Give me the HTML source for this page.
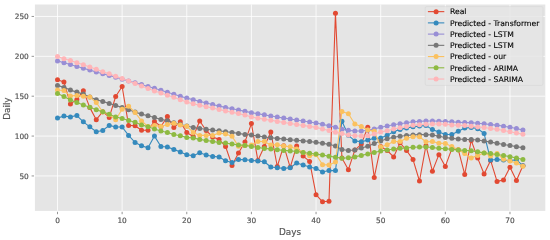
<!DOCTYPE html>
<html><head><meta charset="utf-8"><title>Chart</title><style>html,body{margin:0;padding:0;background:#fff}body{width:550px;height:240px;overflow:hidden}</style></head><body>
<svg width="550" height="240" viewBox="0 0 550 240" style="display:block;font-family:'DejaVu Sans','Liberation Sans',sans-serif">
<rect width="550" height="240" fill="#fff"/>
<rect x="34.9" y="4.5" width="510.4" height="206.4" fill="#E5E5E5"/>
<path d="M57.50 4.5V210.9M122.14 4.5V210.9M186.78 4.5V210.9M251.42 4.5V210.9M316.06 4.5V210.9M380.70 4.5V210.9M445.34 4.5V210.9M509.98 4.5V210.9M34.9 175.95H545.3M34.9 136.07H545.3M34.9 96.20H545.3M34.9 56.33H545.3M34.9 16.45H545.3" stroke="#fff" stroke-width="0.8" fill="none"/>
<path d="M57.50 211.8v2.4M122.14 211.8v2.4M186.78 211.8v2.4M251.42 211.8v2.4M316.06 211.8v2.4M380.70 211.8v2.4M445.34 211.8v2.4M509.98 211.8v2.4M34.0 175.95h-2.4M34.0 136.07h-2.4M34.0 96.20h-2.4M34.0 56.33h-2.4M34.0 16.45h-2.4" stroke="#555" stroke-width="0.62" fill="none"/>
<g font-size="7.4" fill="#555" stroke="#555" stroke-width="0.18">
<text x="57.50" y="222.6" text-anchor="middle">0</text>
<text x="122.14" y="222.6" text-anchor="middle">10</text>
<text x="186.78" y="222.6" text-anchor="middle">20</text>
<text x="251.42" y="222.6" text-anchor="middle">30</text>
<text x="316.06" y="222.6" text-anchor="middle">40</text>
<text x="380.70" y="222.6" text-anchor="middle">50</text>
<text x="445.34" y="222.6" text-anchor="middle">60</text>
<text x="509.98" y="222.6" text-anchor="middle">70</text>
<text x="28.8" y="178.65" text-anchor="end">50</text>
<text x="28.8" y="138.77" text-anchor="end">100</text>
<text x="28.8" y="98.90" text-anchor="end">150</text>
<text x="28.8" y="59.03" text-anchor="end">200</text>
<text x="28.8" y="19.15" text-anchor="end">250</text>
</g>
<g font-size="8.9" fill="#555" stroke="#555" stroke-width="0.18">
<text x="290.10" y="234.7" text-anchor="middle">Days</text>
<text transform="translate(9.7 108.60) rotate(-90)" text-anchor="middle">Daily</text>
</g>
<clipPath id="c"><rect x="34.9" y="4.5" width="510.4" height="206.4"/></clipPath>
<filter id="b" x="-2%" y="-2%" width="104%" height="104%"><feGaussianBlur stdDeviation="0.35"/></filter>
<g clip-path="url(#c)"><g filter="url(#b)">
<polyline points="57.50,79.78 63.96,82.02 70.43,104.10 76.89,99.38 83.36,90.66 89.82,107.62 96.28,119.70 102.75,111.70 109.21,117.38 115.68,96.50 122.14,86.50 128.60,125.38 135.07,125.70 141.53,130.26 148.00,130.26 154.46,121.38 160.92,126.50 167.39,116.58 173.85,127.62 180.32,121.86 186.78,132.58 193.24,136.50 199.71,120.98 206.17,130.50 212.64,136.90 219.10,139.38 225.56,146.50 232.03,165.38 238.49,152.98 244.96,141.94 251.42,123.62 257.88,160.42 264.35,146.50 270.81,132.02 277.28,166.50 283.74,145.70 290.20,167.30 296.67,145.94 303.13,156.10 309.60,161.38 316.06,194.66 322.52,201.78 328.99,201.30 335.45,13.14 341.92,158.02 348.38,169.70 354.84,150.10 361.31,144.10 367.77,127.30 374.24,177.38 380.70,146.50 387.16,150.50 393.63,156.90 400.09,142.82 406.56,150.50 413.02,159.62 419.48,180.98 425.95,145.70 432.41,171.14 438.88,154.66 445.34,166.42 451.80,148.90 458.27,149.70 464.73,174.42 471.20,140.42 477.66,158.10 484.12,173.94 490.59,160.42 497.05,181.38 503.52,180.02 509.98,167.30 516.44,180.42 522.91,165.70" fill="none" stroke="#E24A33" stroke-width="1.1" stroke-linejoin="round"/>
<g fill="#E24A33"><circle cx="57.50" cy="79.78" r="2.5"/><circle cx="63.96" cy="82.02" r="2.5"/><circle cx="70.43" cy="104.10" r="2.5"/><circle cx="76.89" cy="99.38" r="2.5"/><circle cx="83.36" cy="90.66" r="2.5"/><circle cx="89.82" cy="107.62" r="2.5"/><circle cx="96.28" cy="119.70" r="2.5"/><circle cx="102.75" cy="111.70" r="2.5"/><circle cx="109.21" cy="117.38" r="2.5"/><circle cx="115.68" cy="96.50" r="2.5"/><circle cx="122.14" cy="86.50" r="2.5"/><circle cx="128.60" cy="125.38" r="2.5"/><circle cx="135.07" cy="125.70" r="2.5"/><circle cx="141.53" cy="130.26" r="2.5"/><circle cx="148.00" cy="130.26" r="2.5"/><circle cx="154.46" cy="121.38" r="2.5"/><circle cx="160.92" cy="126.50" r="2.5"/><circle cx="167.39" cy="116.58" r="2.5"/><circle cx="173.85" cy="127.62" r="2.5"/><circle cx="180.32" cy="121.86" r="2.5"/><circle cx="186.78" cy="132.58" r="2.5"/><circle cx="193.24" cy="136.50" r="2.5"/><circle cx="199.71" cy="120.98" r="2.5"/><circle cx="206.17" cy="130.50" r="2.5"/><circle cx="212.64" cy="136.90" r="2.5"/><circle cx="219.10" cy="139.38" r="2.5"/><circle cx="225.56" cy="146.50" r="2.5"/><circle cx="232.03" cy="165.38" r="2.5"/><circle cx="238.49" cy="152.98" r="2.5"/><circle cx="244.96" cy="141.94" r="2.5"/><circle cx="251.42" cy="123.62" r="2.5"/><circle cx="257.88" cy="160.42" r="2.5"/><circle cx="264.35" cy="146.50" r="2.5"/><circle cx="270.81" cy="132.02" r="2.5"/><circle cx="277.28" cy="166.50" r="2.5"/><circle cx="283.74" cy="145.70" r="2.5"/><circle cx="290.20" cy="167.30" r="2.5"/><circle cx="296.67" cy="145.94" r="2.5"/><circle cx="303.13" cy="156.10" r="2.5"/><circle cx="309.60" cy="161.38" r="2.5"/><circle cx="316.06" cy="194.66" r="2.5"/><circle cx="322.52" cy="201.78" r="2.5"/><circle cx="328.99" cy="201.30" r="2.5"/><circle cx="335.45" cy="13.14" r="2.5"/><circle cx="341.92" cy="158.02" r="2.5"/><circle cx="348.38" cy="169.70" r="2.5"/><circle cx="354.84" cy="150.10" r="2.5"/><circle cx="361.31" cy="144.10" r="2.5"/><circle cx="367.77" cy="127.30" r="2.5"/><circle cx="374.24" cy="177.38" r="2.5"/><circle cx="380.70" cy="146.50" r="2.5"/><circle cx="387.16" cy="150.50" r="2.5"/><circle cx="393.63" cy="156.90" r="2.5"/><circle cx="400.09" cy="142.82" r="2.5"/><circle cx="406.56" cy="150.50" r="2.5"/><circle cx="413.02" cy="159.62" r="2.5"/><circle cx="419.48" cy="180.98" r="2.5"/><circle cx="425.95" cy="145.70" r="2.5"/><circle cx="432.41" cy="171.14" r="2.5"/><circle cx="438.88" cy="154.66" r="2.5"/><circle cx="445.34" cy="166.42" r="2.5"/><circle cx="451.80" cy="148.90" r="2.5"/><circle cx="458.27" cy="149.70" r="2.5"/><circle cx="464.73" cy="174.42" r="2.5"/><circle cx="471.20" cy="140.42" r="2.5"/><circle cx="477.66" cy="158.10" r="2.5"/><circle cx="484.12" cy="173.94" r="2.5"/><circle cx="490.59" cy="160.42" r="2.5"/><circle cx="497.05" cy="181.38" r="2.5"/><circle cx="503.52" cy="180.02" r="2.5"/><circle cx="509.98" cy="167.30" r="2.5"/><circle cx="516.44" cy="180.42" r="2.5"/><circle cx="522.91" cy="165.70" r="2.5"/></g>
<polyline points="57.50,118.02 63.96,116.10 70.43,116.90 76.89,115.54 83.36,121.86 89.82,126.82 96.28,131.78 102.75,130.50 109.21,125.38 115.68,126.98 122.14,126.98 128.60,135.38 135.07,142.50 141.53,145.86 148.00,147.70 154.46,136.10 160.92,146.50 167.39,147.06 173.85,149.38 180.32,152.02 186.78,154.82 193.24,155.78 199.71,152.82 206.17,154.98 212.64,156.42 219.10,156.98 225.56,160.82 232.03,162.42 238.49,159.38 244.96,159.70 251.42,160.42 257.88,160.98 264.35,161.78 270.81,166.98 277.28,167.78 283.74,168.42 290.20,167.78 296.67,162.98 303.13,164.98 309.60,166.98 316.06,168.58 322.52,172.02 328.99,170.58 335.45,170.58 341.92,121.22 348.38,135.30 354.84,140.90 361.31,141.70 367.77,140.10 374.24,138.34 380.70,138.02 387.16,135.14 393.63,131.86 400.09,129.38 406.56,128.10 413.02,126.82 419.48,126.10 425.95,125.54 432.41,129.62 438.88,131.94 445.34,134.50 451.80,134.50 458.27,131.30 464.73,128.10 471.20,127.46 477.66,128.66 484.12,133.54 490.59,160.02 497.05,159.46 503.52,160.10 509.98,160.82 516.44,159.62 522.91,165.86" fill="none" stroke="#348ABD" stroke-width="1.1" stroke-linejoin="round"/>
<g fill="#348ABD"><circle cx="57.50" cy="118.02" r="2.5"/><circle cx="63.96" cy="116.10" r="2.5"/><circle cx="70.43" cy="116.90" r="2.5"/><circle cx="76.89" cy="115.54" r="2.5"/><circle cx="83.36" cy="121.86" r="2.5"/><circle cx="89.82" cy="126.82" r="2.5"/><circle cx="96.28" cy="131.78" r="2.5"/><circle cx="102.75" cy="130.50" r="2.5"/><circle cx="109.21" cy="125.38" r="2.5"/><circle cx="115.68" cy="126.98" r="2.5"/><circle cx="122.14" cy="126.98" r="2.5"/><circle cx="128.60" cy="135.38" r="2.5"/><circle cx="135.07" cy="142.50" r="2.5"/><circle cx="141.53" cy="145.86" r="2.5"/><circle cx="148.00" cy="147.70" r="2.5"/><circle cx="154.46" cy="136.10" r="2.5"/><circle cx="160.92" cy="146.50" r="2.5"/><circle cx="167.39" cy="147.06" r="2.5"/><circle cx="173.85" cy="149.38" r="2.5"/><circle cx="180.32" cy="152.02" r="2.5"/><circle cx="186.78" cy="154.82" r="2.5"/><circle cx="193.24" cy="155.78" r="2.5"/><circle cx="199.71" cy="152.82" r="2.5"/><circle cx="206.17" cy="154.98" r="2.5"/><circle cx="212.64" cy="156.42" r="2.5"/><circle cx="219.10" cy="156.98" r="2.5"/><circle cx="225.56" cy="160.82" r="2.5"/><circle cx="232.03" cy="162.42" r="2.5"/><circle cx="238.49" cy="159.38" r="2.5"/><circle cx="244.96" cy="159.70" r="2.5"/><circle cx="251.42" cy="160.42" r="2.5"/><circle cx="257.88" cy="160.98" r="2.5"/><circle cx="264.35" cy="161.78" r="2.5"/><circle cx="270.81" cy="166.98" r="2.5"/><circle cx="277.28" cy="167.78" r="2.5"/><circle cx="283.74" cy="168.42" r="2.5"/><circle cx="290.20" cy="167.78" r="2.5"/><circle cx="296.67" cy="162.98" r="2.5"/><circle cx="303.13" cy="164.98" r="2.5"/><circle cx="309.60" cy="166.98" r="2.5"/><circle cx="316.06" cy="168.58" r="2.5"/><circle cx="322.52" cy="172.02" r="2.5"/><circle cx="328.99" cy="170.58" r="2.5"/><circle cx="335.45" cy="170.58" r="2.5"/><circle cx="341.92" cy="121.22" r="2.5"/><circle cx="348.38" cy="135.30" r="2.5"/><circle cx="354.84" cy="140.90" r="2.5"/><circle cx="361.31" cy="141.70" r="2.5"/><circle cx="367.77" cy="140.10" r="2.5"/><circle cx="374.24" cy="138.34" r="2.5"/><circle cx="380.70" cy="138.02" r="2.5"/><circle cx="387.16" cy="135.14" r="2.5"/><circle cx="393.63" cy="131.86" r="2.5"/><circle cx="400.09" cy="129.38" r="2.5"/><circle cx="406.56" cy="128.10" r="2.5"/><circle cx="413.02" cy="126.82" r="2.5"/><circle cx="419.48" cy="126.10" r="2.5"/><circle cx="425.95" cy="125.54" r="2.5"/><circle cx="432.41" cy="129.62" r="2.5"/><circle cx="438.88" cy="131.94" r="2.5"/><circle cx="445.34" cy="134.50" r="2.5"/><circle cx="451.80" cy="134.50" r="2.5"/><circle cx="458.27" cy="131.30" r="2.5"/><circle cx="464.73" cy="128.10" r="2.5"/><circle cx="471.20" cy="127.46" r="2.5"/><circle cx="477.66" cy="128.66" r="2.5"/><circle cx="484.12" cy="133.54" r="2.5"/><circle cx="490.59" cy="160.02" r="2.5"/><circle cx="497.05" cy="159.46" r="2.5"/><circle cx="503.52" cy="160.10" r="2.5"/><circle cx="509.98" cy="160.82" r="2.5"/><circle cx="516.44" cy="159.62" r="2.5"/><circle cx="522.91" cy="165.86" r="2.5"/></g>
<polyline points="57.50,60.90 63.96,62.74 70.43,64.58 76.89,66.42 83.36,68.26 89.82,70.10 96.28,71.94 102.75,73.78 109.21,75.46 115.68,77.30 122.14,79.14 128.60,80.95 135.07,82.77 141.53,84.58 148.00,86.46 154.46,88.34 160.92,90.26 167.39,92.18 173.85,94.22 180.32,96.26 186.78,98.10 193.24,99.83 199.71,101.40 206.17,102.96 212.64,104.53 219.10,106.10 225.56,107.41 232.03,108.72 238.49,110.04 244.96,111.35 251.42,112.66 257.88,113.75 264.35,114.84 270.81,115.92 277.28,117.01 283.74,118.10 290.20,119.08 296.67,120.05 303.13,121.03 309.60,122.00 316.06,122.98 322.52,124.34 328.99,125.70 335.45,127.30 341.92,129.22 348.38,130.34 354.84,131.06 361.31,131.06 367.77,130.26 374.24,128.90 380.70,127.30 387.16,126.02 393.63,124.74 400.09,123.70 406.56,122.74 413.02,121.78 419.48,121.38 425.95,121.06 432.41,120.98 438.88,121.14 445.34,121.46 451.80,121.86 458.27,122.18 464.73,122.58 471.20,122.66 477.66,123.22 484.12,123.78 490.59,124.58 497.05,125.14 503.52,126.26 509.98,127.30 516.44,128.58 522.91,130.10" fill="none" stroke="#988ED5" stroke-width="1.1" stroke-linejoin="round"/>
<g fill="#988ED5"><circle cx="57.50" cy="60.90" r="2.5"/><circle cx="63.96" cy="62.74" r="2.5"/><circle cx="70.43" cy="64.58" r="2.5"/><circle cx="76.89" cy="66.42" r="2.5"/><circle cx="83.36" cy="68.26" r="2.5"/><circle cx="89.82" cy="70.10" r="2.5"/><circle cx="96.28" cy="71.94" r="2.5"/><circle cx="102.75" cy="73.78" r="2.5"/><circle cx="109.21" cy="75.46" r="2.5"/><circle cx="115.68" cy="77.30" r="2.5"/><circle cx="122.14" cy="79.14" r="2.5"/><circle cx="128.60" cy="80.95" r="2.5"/><circle cx="135.07" cy="82.77" r="2.5"/><circle cx="141.53" cy="84.58" r="2.5"/><circle cx="148.00" cy="86.46" r="2.5"/><circle cx="154.46" cy="88.34" r="2.5"/><circle cx="160.92" cy="90.26" r="2.5"/><circle cx="167.39" cy="92.18" r="2.5"/><circle cx="173.85" cy="94.22" r="2.5"/><circle cx="180.32" cy="96.26" r="2.5"/><circle cx="186.78" cy="98.10" r="2.5"/><circle cx="193.24" cy="99.83" r="2.5"/><circle cx="199.71" cy="101.40" r="2.5"/><circle cx="206.17" cy="102.96" r="2.5"/><circle cx="212.64" cy="104.53" r="2.5"/><circle cx="219.10" cy="106.10" r="2.5"/><circle cx="225.56" cy="107.41" r="2.5"/><circle cx="232.03" cy="108.72" r="2.5"/><circle cx="238.49" cy="110.04" r="2.5"/><circle cx="244.96" cy="111.35" r="2.5"/><circle cx="251.42" cy="112.66" r="2.5"/><circle cx="257.88" cy="113.75" r="2.5"/><circle cx="264.35" cy="114.84" r="2.5"/><circle cx="270.81" cy="115.92" r="2.5"/><circle cx="277.28" cy="117.01" r="2.5"/><circle cx="283.74" cy="118.10" r="2.5"/><circle cx="290.20" cy="119.08" r="2.5"/><circle cx="296.67" cy="120.05" r="2.5"/><circle cx="303.13" cy="121.03" r="2.5"/><circle cx="309.60" cy="122.00" r="2.5"/><circle cx="316.06" cy="122.98" r="2.5"/><circle cx="322.52" cy="124.34" r="2.5"/><circle cx="328.99" cy="125.70" r="2.5"/><circle cx="335.45" cy="127.30" r="2.5"/><circle cx="341.92" cy="129.22" r="2.5"/><circle cx="348.38" cy="130.34" r="2.5"/><circle cx="354.84" cy="131.06" r="2.5"/><circle cx="361.31" cy="131.06" r="2.5"/><circle cx="367.77" cy="130.26" r="2.5"/><circle cx="374.24" cy="128.90" r="2.5"/><circle cx="380.70" cy="127.30" r="2.5"/><circle cx="387.16" cy="126.02" r="2.5"/><circle cx="393.63" cy="124.74" r="2.5"/><circle cx="400.09" cy="123.70" r="2.5"/><circle cx="406.56" cy="122.74" r="2.5"/><circle cx="413.02" cy="121.78" r="2.5"/><circle cx="419.48" cy="121.38" r="2.5"/><circle cx="425.95" cy="121.06" r="2.5"/><circle cx="432.41" cy="120.98" r="2.5"/><circle cx="438.88" cy="121.14" r="2.5"/><circle cx="445.34" cy="121.46" r="2.5"/><circle cx="451.80" cy="121.86" r="2.5"/><circle cx="458.27" cy="122.18" r="2.5"/><circle cx="464.73" cy="122.58" r="2.5"/><circle cx="471.20" cy="122.66" r="2.5"/><circle cx="477.66" cy="123.22" r="2.5"/><circle cx="484.12" cy="123.78" r="2.5"/><circle cx="490.59" cy="124.58" r="2.5"/><circle cx="497.05" cy="125.14" r="2.5"/><circle cx="503.52" cy="126.26" r="2.5"/><circle cx="509.98" cy="127.30" r="2.5"/><circle cx="516.44" cy="128.58" r="2.5"/><circle cx="522.91" cy="130.10" r="2.5"/></g>
<polyline points="57.50,85.38 63.96,87.38 70.43,90.10 76.89,92.10 83.36,94.10 89.82,96.90 96.28,99.70 102.75,101.38 109.21,103.46 115.68,105.38 122.14,107.46 128.60,109.70 135.07,112.10 141.53,114.10 148.00,115.70 154.46,117.54 160.92,119.38 167.39,120.74 173.85,122.66 180.32,124.50 186.78,126.02 193.24,127.54 199.71,128.42 206.17,129.30 212.64,130.02 219.10,130.82 225.56,131.78 232.03,132.42 238.49,133.38 244.96,134.42 251.42,134.98 257.88,136.02 264.35,136.98 270.81,137.78 277.28,138.42 283.74,138.98 290.20,139.86 296.67,140.26 303.13,140.90 309.60,141.46 316.06,142.34 322.52,143.22 328.99,144.34 335.45,145.94 341.92,149.46 348.38,150.42 354.84,150.02 361.31,147.94 367.77,146.18 374.24,143.54 380.70,141.06 387.16,138.74 393.63,137.22 400.09,136.26 406.56,135.46 413.02,134.90 419.48,134.66 425.95,134.66 432.41,135.06 438.88,136.26 445.34,137.46 451.80,138.34 458.27,139.06 464.73,139.46 471.20,139.54 477.66,139.94 484.12,141.06 490.59,142.10 497.05,143.30 503.52,144.42 509.98,145.54 516.44,146.66 522.91,147.78" fill="none" stroke="#777777" stroke-width="1.1" stroke-linejoin="round"/>
<g fill="#777777"><circle cx="57.50" cy="85.38" r="2.5"/><circle cx="63.96" cy="87.38" r="2.5"/><circle cx="70.43" cy="90.10" r="2.5"/><circle cx="76.89" cy="92.10" r="2.5"/><circle cx="83.36" cy="94.10" r="2.5"/><circle cx="89.82" cy="96.90" r="2.5"/><circle cx="96.28" cy="99.70" r="2.5"/><circle cx="102.75" cy="101.38" r="2.5"/><circle cx="109.21" cy="103.46" r="2.5"/><circle cx="115.68" cy="105.38" r="2.5"/><circle cx="122.14" cy="107.46" r="2.5"/><circle cx="128.60" cy="109.70" r="2.5"/><circle cx="135.07" cy="112.10" r="2.5"/><circle cx="141.53" cy="114.10" r="2.5"/><circle cx="148.00" cy="115.70" r="2.5"/><circle cx="154.46" cy="117.54" r="2.5"/><circle cx="160.92" cy="119.38" r="2.5"/><circle cx="167.39" cy="120.74" r="2.5"/><circle cx="173.85" cy="122.66" r="2.5"/><circle cx="180.32" cy="124.50" r="2.5"/><circle cx="186.78" cy="126.02" r="2.5"/><circle cx="193.24" cy="127.54" r="2.5"/><circle cx="199.71" cy="128.42" r="2.5"/><circle cx="206.17" cy="129.30" r="2.5"/><circle cx="212.64" cy="130.02" r="2.5"/><circle cx="219.10" cy="130.82" r="2.5"/><circle cx="225.56" cy="131.78" r="2.5"/><circle cx="232.03" cy="132.42" r="2.5"/><circle cx="238.49" cy="133.38" r="2.5"/><circle cx="244.96" cy="134.42" r="2.5"/><circle cx="251.42" cy="134.98" r="2.5"/><circle cx="257.88" cy="136.02" r="2.5"/><circle cx="264.35" cy="136.98" r="2.5"/><circle cx="270.81" cy="137.78" r="2.5"/><circle cx="277.28" cy="138.42" r="2.5"/><circle cx="283.74" cy="138.98" r="2.5"/><circle cx="290.20" cy="139.86" r="2.5"/><circle cx="296.67" cy="140.26" r="2.5"/><circle cx="303.13" cy="140.90" r="2.5"/><circle cx="309.60" cy="141.46" r="2.5"/><circle cx="316.06" cy="142.34" r="2.5"/><circle cx="322.52" cy="143.22" r="2.5"/><circle cx="328.99" cy="144.34" r="2.5"/><circle cx="335.45" cy="145.94" r="2.5"/><circle cx="341.92" cy="149.46" r="2.5"/><circle cx="348.38" cy="150.42" r="2.5"/><circle cx="354.84" cy="150.02" r="2.5"/><circle cx="361.31" cy="147.94" r="2.5"/><circle cx="367.77" cy="146.18" r="2.5"/><circle cx="374.24" cy="143.54" r="2.5"/><circle cx="380.70" cy="141.06" r="2.5"/><circle cx="387.16" cy="138.74" r="2.5"/><circle cx="393.63" cy="137.22" r="2.5"/><circle cx="400.09" cy="136.26" r="2.5"/><circle cx="406.56" cy="135.46" r="2.5"/><circle cx="413.02" cy="134.90" r="2.5"/><circle cx="419.48" cy="134.66" r="2.5"/><circle cx="425.95" cy="134.66" r="2.5"/><circle cx="432.41" cy="135.06" r="2.5"/><circle cx="438.88" cy="136.26" r="2.5"/><circle cx="445.34" cy="137.46" r="2.5"/><circle cx="451.80" cy="138.34" r="2.5"/><circle cx="458.27" cy="139.06" r="2.5"/><circle cx="464.73" cy="139.46" r="2.5"/><circle cx="471.20" cy="139.54" r="2.5"/><circle cx="477.66" cy="139.94" r="2.5"/><circle cx="484.12" cy="141.06" r="2.5"/><circle cx="490.59" cy="142.10" r="2.5"/><circle cx="497.05" cy="143.30" r="2.5"/><circle cx="503.52" cy="144.42" r="2.5"/><circle cx="509.98" cy="145.54" r="2.5"/><circle cx="516.44" cy="146.66" r="2.5"/><circle cx="522.91" cy="147.78" r="2.5"/></g>
<polyline points="57.50,90.02 63.96,90.50 70.43,96.10 76.89,95.38 83.36,96.34 89.82,97.06 96.28,102.50 102.75,111.94 109.21,114.66 115.68,119.78 122.14,109.30 128.60,106.26 135.07,112.50 141.53,120.90 148.00,126.50 154.46,125.38 160.92,126.50 167.39,124.42 173.85,123.14 180.32,125.06 186.78,126.26 193.24,132.42 199.71,135.38 206.17,135.38 212.64,135.38 219.10,132.98 225.56,134.02 232.03,136.18 238.49,146.34 244.96,145.54 251.42,145.06 257.88,141.54 264.35,141.54 270.81,144.90 277.28,144.74 283.74,146.10 290.20,146.82 296.67,148.98 303.13,152.50 309.60,155.86 316.06,154.74 322.52,164.66 328.99,164.98 335.45,162.10 341.92,111.46 348.38,113.70 354.84,124.02 361.31,126.50 367.77,130.02 374.24,131.14 380.70,146.98 387.16,144.66 393.63,141.54 400.09,141.54 406.56,138.34 413.02,136.74 419.48,136.82 425.95,141.70 432.41,141.54 438.88,143.14 445.34,143.54 451.80,146.50 458.27,149.78 464.73,153.46 471.20,158.02 477.66,155.38 484.12,153.06 490.59,156.10 497.05,153.46 503.52,159.22 509.98,160.98 516.44,163.06 522.91,166.26" fill="none" stroke="#FBC15E" stroke-width="1.1" stroke-linejoin="round"/>
<g fill="#FBC15E"><circle cx="57.50" cy="90.02" r="2.5"/><circle cx="63.96" cy="90.50" r="2.5"/><circle cx="70.43" cy="96.10" r="2.5"/><circle cx="76.89" cy="95.38" r="2.5"/><circle cx="83.36" cy="96.34" r="2.5"/><circle cx="89.82" cy="97.06" r="2.5"/><circle cx="96.28" cy="102.50" r="2.5"/><circle cx="102.75" cy="111.94" r="2.5"/><circle cx="109.21" cy="114.66" r="2.5"/><circle cx="115.68" cy="119.78" r="2.5"/><circle cx="122.14" cy="109.30" r="2.5"/><circle cx="128.60" cy="106.26" r="2.5"/><circle cx="135.07" cy="112.50" r="2.5"/><circle cx="141.53" cy="120.90" r="2.5"/><circle cx="148.00" cy="126.50" r="2.5"/><circle cx="154.46" cy="125.38" r="2.5"/><circle cx="160.92" cy="126.50" r="2.5"/><circle cx="167.39" cy="124.42" r="2.5"/><circle cx="173.85" cy="123.14" r="2.5"/><circle cx="180.32" cy="125.06" r="2.5"/><circle cx="186.78" cy="126.26" r="2.5"/><circle cx="193.24" cy="132.42" r="2.5"/><circle cx="199.71" cy="135.38" r="2.5"/><circle cx="206.17" cy="135.38" r="2.5"/><circle cx="212.64" cy="135.38" r="2.5"/><circle cx="219.10" cy="132.98" r="2.5"/><circle cx="225.56" cy="134.02" r="2.5"/><circle cx="232.03" cy="136.18" r="2.5"/><circle cx="238.49" cy="146.34" r="2.5"/><circle cx="244.96" cy="145.54" r="2.5"/><circle cx="251.42" cy="145.06" r="2.5"/><circle cx="257.88" cy="141.54" r="2.5"/><circle cx="264.35" cy="141.54" r="2.5"/><circle cx="270.81" cy="144.90" r="2.5"/><circle cx="277.28" cy="144.74" r="2.5"/><circle cx="283.74" cy="146.10" r="2.5"/><circle cx="290.20" cy="146.82" r="2.5"/><circle cx="296.67" cy="148.98" r="2.5"/><circle cx="303.13" cy="152.50" r="2.5"/><circle cx="309.60" cy="155.86" r="2.5"/><circle cx="316.06" cy="154.74" r="2.5"/><circle cx="322.52" cy="164.66" r="2.5"/><circle cx="328.99" cy="164.98" r="2.5"/><circle cx="335.45" cy="162.10" r="2.5"/><circle cx="341.92" cy="111.46" r="2.5"/><circle cx="348.38" cy="113.70" r="2.5"/><circle cx="354.84" cy="124.02" r="2.5"/><circle cx="361.31" cy="126.50" r="2.5"/><circle cx="367.77" cy="130.02" r="2.5"/><circle cx="374.24" cy="131.14" r="2.5"/><circle cx="380.70" cy="146.98" r="2.5"/><circle cx="387.16" cy="144.66" r="2.5"/><circle cx="393.63" cy="141.54" r="2.5"/><circle cx="400.09" cy="141.54" r="2.5"/><circle cx="406.56" cy="138.34" r="2.5"/><circle cx="413.02" cy="136.74" r="2.5"/><circle cx="419.48" cy="136.82" r="2.5"/><circle cx="425.95" cy="141.70" r="2.5"/><circle cx="432.41" cy="141.54" r="2.5"/><circle cx="438.88" cy="143.14" r="2.5"/><circle cx="445.34" cy="143.54" r="2.5"/><circle cx="451.80" cy="146.50" r="2.5"/><circle cx="458.27" cy="149.78" r="2.5"/><circle cx="464.73" cy="153.46" r="2.5"/><circle cx="471.20" cy="158.02" r="2.5"/><circle cx="477.66" cy="155.38" r="2.5"/><circle cx="484.12" cy="153.06" r="2.5"/><circle cx="490.59" cy="156.10" r="2.5"/><circle cx="497.05" cy="153.46" r="2.5"/><circle cx="503.52" cy="159.22" r="2.5"/><circle cx="509.98" cy="160.98" r="2.5"/><circle cx="516.44" cy="163.06" r="2.5"/><circle cx="522.91" cy="166.26" r="2.5"/></g>
<polyline points="57.50,93.38 63.96,96.42 70.43,100.10 76.89,102.50 83.36,105.06 89.82,107.30 96.28,109.70 102.75,111.86 109.21,114.18 115.68,116.90 122.14,118.50 128.60,120.42 135.07,122.26 141.53,124.90 148.00,126.82 154.46,128.98 160.92,130.98 167.39,132.42 173.85,134.50 180.32,135.78 186.78,137.38 193.24,138.02 199.71,139.38 206.17,140.42 212.64,141.38 219.10,142.50 225.56,142.98 232.03,144.10 238.49,144.90 244.96,145.38 251.42,146.42 257.88,147.38 264.35,148.42 270.81,148.98 277.28,149.78 283.74,150.42 290.20,150.90 296.67,151.54 303.13,152.50 309.60,153.30 316.06,154.10 322.52,155.06 328.99,156.18 335.45,157.14 341.92,158.26 348.38,157.70 354.84,156.90 361.31,155.38 367.77,154.02 374.24,152.42 380.70,150.98 387.16,149.94 393.63,148.98 400.09,148.34 406.56,147.94 413.02,147.22 419.48,146.98 425.95,147.06 432.41,147.54 438.88,148.34 445.34,148.82 451.80,149.38 458.27,149.94 464.73,150.42 471.20,150.74 477.66,151.86 484.12,152.90 490.59,153.54 497.05,154.42 503.52,155.46 509.98,156.66 516.44,157.94 522.91,159.54" fill="none" stroke="#8EBA42" stroke-width="1.1" stroke-linejoin="round"/>
<g fill="#8EBA42"><circle cx="57.50" cy="93.38" r="2.5"/><circle cx="63.96" cy="96.42" r="2.5"/><circle cx="70.43" cy="100.10" r="2.5"/><circle cx="76.89" cy="102.50" r="2.5"/><circle cx="83.36" cy="105.06" r="2.5"/><circle cx="89.82" cy="107.30" r="2.5"/><circle cx="96.28" cy="109.70" r="2.5"/><circle cx="102.75" cy="111.86" r="2.5"/><circle cx="109.21" cy="114.18" r="2.5"/><circle cx="115.68" cy="116.90" r="2.5"/><circle cx="122.14" cy="118.50" r="2.5"/><circle cx="128.60" cy="120.42" r="2.5"/><circle cx="135.07" cy="122.26" r="2.5"/><circle cx="141.53" cy="124.90" r="2.5"/><circle cx="148.00" cy="126.82" r="2.5"/><circle cx="154.46" cy="128.98" r="2.5"/><circle cx="160.92" cy="130.98" r="2.5"/><circle cx="167.39" cy="132.42" r="2.5"/><circle cx="173.85" cy="134.50" r="2.5"/><circle cx="180.32" cy="135.78" r="2.5"/><circle cx="186.78" cy="137.38" r="2.5"/><circle cx="193.24" cy="138.02" r="2.5"/><circle cx="199.71" cy="139.38" r="2.5"/><circle cx="206.17" cy="140.42" r="2.5"/><circle cx="212.64" cy="141.38" r="2.5"/><circle cx="219.10" cy="142.50" r="2.5"/><circle cx="225.56" cy="142.98" r="2.5"/><circle cx="232.03" cy="144.10" r="2.5"/><circle cx="238.49" cy="144.90" r="2.5"/><circle cx="244.96" cy="145.38" r="2.5"/><circle cx="251.42" cy="146.42" r="2.5"/><circle cx="257.88" cy="147.38" r="2.5"/><circle cx="264.35" cy="148.42" r="2.5"/><circle cx="270.81" cy="148.98" r="2.5"/><circle cx="277.28" cy="149.78" r="2.5"/><circle cx="283.74" cy="150.42" r="2.5"/><circle cx="290.20" cy="150.90" r="2.5"/><circle cx="296.67" cy="151.54" r="2.5"/><circle cx="303.13" cy="152.50" r="2.5"/><circle cx="309.60" cy="153.30" r="2.5"/><circle cx="316.06" cy="154.10" r="2.5"/><circle cx="322.52" cy="155.06" r="2.5"/><circle cx="328.99" cy="156.18" r="2.5"/><circle cx="335.45" cy="157.14" r="2.5"/><circle cx="341.92" cy="158.26" r="2.5"/><circle cx="348.38" cy="157.70" r="2.5"/><circle cx="354.84" cy="156.90" r="2.5"/><circle cx="361.31" cy="155.38" r="2.5"/><circle cx="367.77" cy="154.02" r="2.5"/><circle cx="374.24" cy="152.42" r="2.5"/><circle cx="380.70" cy="150.98" r="2.5"/><circle cx="387.16" cy="149.94" r="2.5"/><circle cx="393.63" cy="148.98" r="2.5"/><circle cx="400.09" cy="148.34" r="2.5"/><circle cx="406.56" cy="147.94" r="2.5"/><circle cx="413.02" cy="147.22" r="2.5"/><circle cx="419.48" cy="146.98" r="2.5"/><circle cx="425.95" cy="147.06" r="2.5"/><circle cx="432.41" cy="147.54" r="2.5"/><circle cx="438.88" cy="148.34" r="2.5"/><circle cx="445.34" cy="148.82" r="2.5"/><circle cx="451.80" cy="149.38" r="2.5"/><circle cx="458.27" cy="149.94" r="2.5"/><circle cx="464.73" cy="150.42" r="2.5"/><circle cx="471.20" cy="150.74" r="2.5"/><circle cx="477.66" cy="151.86" r="2.5"/><circle cx="484.12" cy="152.90" r="2.5"/><circle cx="490.59" cy="153.54" r="2.5"/><circle cx="497.05" cy="154.42" r="2.5"/><circle cx="503.52" cy="155.46" r="2.5"/><circle cx="509.98" cy="156.66" r="2.5"/><circle cx="516.44" cy="157.94" r="2.5"/><circle cx="522.91" cy="159.54" r="2.5"/></g>
<polyline points="57.50,56.42 63.96,58.66 70.43,60.58 76.89,62.66 83.36,64.82 89.82,66.98 96.28,69.30 102.75,71.70 109.21,73.86 115.68,76.18 122.14,78.42 128.60,80.98 135.07,83.54 141.53,86.10 148.00,88.58 154.46,90.90 160.92,93.06 167.39,95.22 173.85,97.30 180.32,99.70 186.78,102.10 193.24,103.72 199.71,105.17 206.17,106.63 212.64,108.08 219.10,109.54 225.56,110.90 232.03,112.26 238.49,113.62 244.96,114.98 251.42,117.06 257.88,118.15 264.35,119.24 270.81,120.32 277.28,121.41 283.74,122.50 290.20,123.48 296.67,124.45 303.13,125.43 309.60,126.40 316.06,127.38 322.52,128.94 328.99,130.50 335.45,132.26 341.92,133.38 348.38,135.06 354.84,135.78 361.31,136.10 367.77,135.70 374.24,134.10 380.70,131.94 387.16,130.66 393.63,128.98 400.09,127.70 406.56,126.50 413.02,125.30 419.48,124.66 425.95,124.26 432.41,124.02 438.88,124.02 445.34,124.18 451.80,124.90 458.27,125.22 464.73,125.62 471.20,126.26 477.66,126.90 484.12,127.54 490.59,128.58 497.05,129.30 503.52,130.42 509.98,131.70 516.44,132.98 522.91,134.26" fill="none" stroke="#FFB5B8" stroke-width="1.1" stroke-linejoin="round"/>
<g fill="#FFB5B8"><circle cx="57.50" cy="56.42" r="2.5"/><circle cx="63.96" cy="58.66" r="2.5"/><circle cx="70.43" cy="60.58" r="2.5"/><circle cx="76.89" cy="62.66" r="2.5"/><circle cx="83.36" cy="64.82" r="2.5"/><circle cx="89.82" cy="66.98" r="2.5"/><circle cx="96.28" cy="69.30" r="2.5"/><circle cx="102.75" cy="71.70" r="2.5"/><circle cx="109.21" cy="73.86" r="2.5"/><circle cx="115.68" cy="76.18" r="2.5"/><circle cx="122.14" cy="78.42" r="2.5"/><circle cx="128.60" cy="80.98" r="2.5"/><circle cx="135.07" cy="83.54" r="2.5"/><circle cx="141.53" cy="86.10" r="2.5"/><circle cx="148.00" cy="88.58" r="2.5"/><circle cx="154.46" cy="90.90" r="2.5"/><circle cx="160.92" cy="93.06" r="2.5"/><circle cx="167.39" cy="95.22" r="2.5"/><circle cx="173.85" cy="97.30" r="2.5"/><circle cx="180.32" cy="99.70" r="2.5"/><circle cx="186.78" cy="102.10" r="2.5"/><circle cx="193.24" cy="103.72" r="2.5"/><circle cx="199.71" cy="105.17" r="2.5"/><circle cx="206.17" cy="106.63" r="2.5"/><circle cx="212.64" cy="108.08" r="2.5"/><circle cx="219.10" cy="109.54" r="2.5"/><circle cx="225.56" cy="110.90" r="2.5"/><circle cx="232.03" cy="112.26" r="2.5"/><circle cx="238.49" cy="113.62" r="2.5"/><circle cx="244.96" cy="114.98" r="2.5"/><circle cx="251.42" cy="117.06" r="2.5"/><circle cx="257.88" cy="118.15" r="2.5"/><circle cx="264.35" cy="119.24" r="2.5"/><circle cx="270.81" cy="120.32" r="2.5"/><circle cx="277.28" cy="121.41" r="2.5"/><circle cx="283.74" cy="122.50" r="2.5"/><circle cx="290.20" cy="123.48" r="2.5"/><circle cx="296.67" cy="124.45" r="2.5"/><circle cx="303.13" cy="125.43" r="2.5"/><circle cx="309.60" cy="126.40" r="2.5"/><circle cx="316.06" cy="127.38" r="2.5"/><circle cx="322.52" cy="128.94" r="2.5"/><circle cx="328.99" cy="130.50" r="2.5"/><circle cx="335.45" cy="132.26" r="2.5"/><circle cx="341.92" cy="133.38" r="2.5"/><circle cx="348.38" cy="135.06" r="2.5"/><circle cx="354.84" cy="135.78" r="2.5"/><circle cx="361.31" cy="136.10" r="2.5"/><circle cx="367.77" cy="135.70" r="2.5"/><circle cx="374.24" cy="134.10" r="2.5"/><circle cx="380.70" cy="131.94" r="2.5"/><circle cx="387.16" cy="130.66" r="2.5"/><circle cx="393.63" cy="128.98" r="2.5"/><circle cx="400.09" cy="127.70" r="2.5"/><circle cx="406.56" cy="126.50" r="2.5"/><circle cx="413.02" cy="125.30" r="2.5"/><circle cx="419.48" cy="124.66" r="2.5"/><circle cx="425.95" cy="124.26" r="2.5"/><circle cx="432.41" cy="124.02" r="2.5"/><circle cx="438.88" cy="124.02" r="2.5"/><circle cx="445.34" cy="124.18" r="2.5"/><circle cx="451.80" cy="124.90" r="2.5"/><circle cx="458.27" cy="125.22" r="2.5"/><circle cx="464.73" cy="125.62" r="2.5"/><circle cx="471.20" cy="126.26" r="2.5"/><circle cx="477.66" cy="126.90" r="2.5"/><circle cx="484.12" cy="127.54" r="2.5"/><circle cx="490.59" cy="128.58" r="2.5"/><circle cx="497.05" cy="129.30" r="2.5"/><circle cx="503.52" cy="130.42" r="2.5"/><circle cx="509.98" cy="131.70" r="2.5"/><circle cx="516.44" cy="132.98" r="2.5"/><circle cx="522.91" cy="134.26" r="2.5"/></g>
</g></g>
<rect x="425.2" y="6.6" width="117.8" height="78.8" rx="1.5" fill="#E5E5E5" fill-opacity="0.8" stroke="#d0d0d0" stroke-opacity="0.8" stroke-width="0.5"/>
<g font-size="7.65" fill="#000" stroke="#000" stroke-width="0.12">
<g filter="url(#b)" stroke="none"><path d="M427.9 11.65h16.4" stroke="#E24A33" stroke-width="1.1"/><circle cx="436.1" cy="11.65" r="2.5" fill="#E24A33"/></g>
<text x="450" y="14.45">Real</text>
<g filter="url(#b)" stroke="none"><path d="M427.9 22.88h16.4" stroke="#348ABD" stroke-width="1.1"/><circle cx="436.1" cy="22.88" r="2.5" fill="#348ABD"/></g>
<text x="450" y="25.68">Predicted - Transformer</text>
<g filter="url(#b)" stroke="none"><path d="M427.9 34.11h16.4" stroke="#988ED5" stroke-width="1.1"/><circle cx="436.1" cy="34.11" r="2.5" fill="#988ED5"/></g>
<text x="450" y="36.91">Predicted - LSTM</text>
<g filter="url(#b)" stroke="none"><path d="M427.9 45.34h16.4" stroke="#777777" stroke-width="1.1"/><circle cx="436.1" cy="45.34" r="2.5" fill="#777777"/></g>
<text x="450" y="48.14">Predicted - LSTM</text>
<g filter="url(#b)" stroke="none"><path d="M427.9 56.57h16.4" stroke="#FBC15E" stroke-width="1.1"/><circle cx="436.1" cy="56.57" r="2.5" fill="#FBC15E"/></g>
<text x="450" y="59.37">Predicted - our</text>
<g filter="url(#b)" stroke="none"><path d="M427.9 67.80h16.4" stroke="#8EBA42" stroke-width="1.1"/><circle cx="436.1" cy="67.80" r="2.5" fill="#8EBA42"/></g>
<text x="450" y="70.60">Predicted - ARIMA</text>
<g filter="url(#b)" stroke="none"><path d="M427.9 79.03h16.4" stroke="#FFB5B8" stroke-width="1.1"/><circle cx="436.1" cy="79.03" r="2.5" fill="#FFB5B8"/></g>
<text x="450" y="81.83">Predicted - SARIMA</text>
</g>
</svg>
</body></html>
